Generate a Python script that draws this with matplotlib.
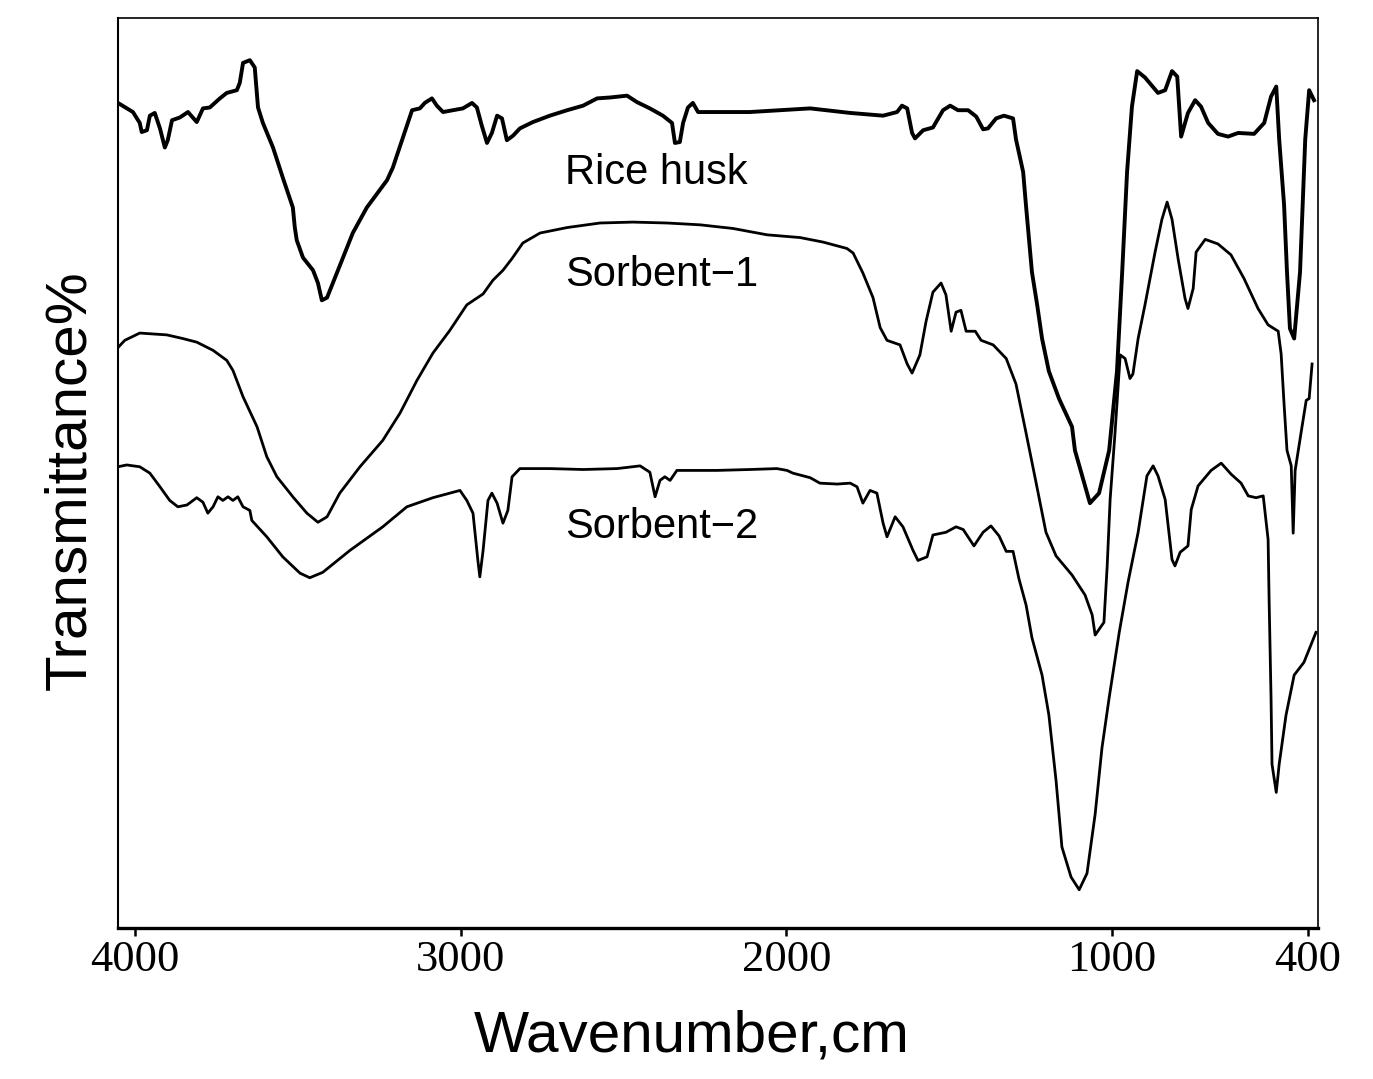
import matplotlib
matplotlib.use('Agg')
import matplotlib.pyplot as plt

# FTIR spectra (wavenumber in cm-1, transmittance in a.u.)
rice_wn = [4052, 4006, 3985, 3979, 3963, 3954, 3939, 3923, 3908, 3899, 3886, 3862, 3837, 3810,
           3791, 3770, 3739, 3718, 3687, 3678, 3668, 3647, 3632, 3622, 3607, 3576, 3546, 3515,
           3509, 3503, 3484, 3453, 3438, 3426, 3410, 3380, 3331, 3288, 3226, 3208, 3149, 3125,
           3110, 3088, 3073, 3054, 3024, 2993, 2965, 2950, 2935, 2919, 2904, 2888, 2873, 2858,
           2839, 2818, 2778, 2726, 2673, 2624, 2581, 2541, 2489, 2459, 2419, 2379, 2351, 2342,
           2327, 2317, 2302, 2287, 2271, 2112, 1927, 1804, 1703, 1660, 1645, 1629, 1614, 1605,
           1580, 1550, 1519, 1497, 1473, 1442, 1417, 1396, 1381, 1356, 1332, 1304, 1295, 1273,
           1264, 1255, 1246, 1230, 1215, 1194, 1163, 1123, 1114, 1068, 1040, 1009, 985, 969,
           954, 939, 923, 899, 859, 837, 816, 800, 788, 767, 745, 727, 705, 675, 644, 613, 564,
           533, 512, 496, 487, 472, 463, 454, 441, 423, 407, 395, 380]
rice_t = [90.7, 89.7, 88.5, 87.5, 87.7, 89.3, 89.6, 87.9, 85.8, 86.6, 88.8, 89.1, 89.7, 88.6,
          90.1, 90.2, 91.2, 91.8, 92.1, 92.9, 95.1, 95.4, 94.6, 90.2, 88.5, 85.8, 82.5, 79.2,
          77.0, 75.6, 73.7, 72.3, 70.9, 69.0, 69.3, 72.0, 76.4, 79.2, 82.2, 83.6, 89.9, 90.1,
          90.7, 91.2, 90.4, 89.7, 89.9, 90.1, 90.7, 90.2, 88.2, 86.3, 87.4, 89.3, 89.0, 86.6,
          87.1, 87.9, 88.6, 89.3, 89.9, 90.4, 91.2, 91.3, 91.5, 90.8, 90.1, 89.3, 88.5, 86.3,
          86.4, 88.5, 90.2, 90.7, 89.7, 89.7, 90.1, 89.6, 89.3, 89.7, 90.4, 90.1, 87.4, 86.8,
          87.7, 88.0, 89.9, 90.4, 89.9, 89.9, 89.2, 87.8, 87.9, 89.0, 89.3, 89.0, 86.7, 83.1,
          79.3, 75.7, 72.1, 68.5, 64.8, 61.2, 58.2, 55.1, 52.5, 46.7, 47.8, 52.5, 61.2, 72.1,
          83.1, 90.3, 94.2, 93.5, 91.8, 92.1, 94.2, 93.6, 87.0, 89.6, 91.0, 90.3, 88.5, 87.3,
          87.0, 87.4, 87.3, 88.5, 91.4, 92.5, 86.7, 79.5, 72.1, 65.9, 64.8, 72.1, 86.7, 92.1,
          91.0]

sorb1_wn = [4052, 4031, 3985, 3902, 3853, 3810, 3760, 3718, 3699, 3668, 3625, 3595, 3564, 3515,
            3472, 3438, 3410, 3371, 3309, 3239, 3186, 3134, 3085, 3033, 2981, 2931, 2901, 2870,
            2842, 2809, 2756, 2673, 2572, 2471, 2366, 2265, 2164, 2059, 1958, 1887, 1814, 1795,
            1765, 1734, 1712, 1691, 1651, 1629, 1614, 1590, 1571, 1550, 1525, 1510, 1494, 1479,
            1464, 1448, 1420, 1402, 1365, 1325, 1295, 1264, 1233, 1203, 1172, 1123, 1083, 1061,
            1052, 1025, 1015, 1006, 991, 975, 960, 945, 936, 920, 899, 868, 847, 831, 816, 797,
            776, 767, 751, 742, 714, 675, 635, 595, 552, 521, 490, 481, 472, 463, 450, 444, 438,
            420, 404, 395, 386]
sorb1_t = [63.8, 64.6, 65.4, 65.2, 64.8, 64.4, 63.5, 62.4, 61.3, 58.4, 55.1, 51.8, 49.6, 47.4,
           45.6, 44.6, 45.2, 47.8, 50.7, 53.6, 56.6, 60.2, 63.2, 65.7, 68.5, 69.7, 71.2, 72.3,
           73.6, 75.3, 76.4, 77.0, 77.5, 77.6, 77.5, 77.3, 76.9, 76.2, 75.9, 75.4, 74.7, 74.2,
           72.0, 69.3, 66.0, 64.6, 64.1, 62.0, 61.0, 63.0, 66.7, 69.9, 70.9, 69.6, 65.6, 67.7,
           67.9, 65.6, 65.6, 64.6, 64.1, 62.6, 59.8, 54.4, 48.9, 43.5, 40.9, 38.8, 36.6, 34.4,
           32.2, 33.6, 39.8, 47.1, 54.4, 63.0, 62.6, 60.4, 60.9, 64.8, 68.5, 74.3, 77.9, 79.8,
           77.9, 73.5, 69.2, 68.1, 70.3, 74.3, 75.7, 75.2, 74.0, 71.4, 68.1, 66.3, 65.6, 63.1,
           57.6, 52.5, 50.8, 43.4, 50.3, 54.4, 58.0, 58.2, 62.0]

sorb2_wn = [4052, 4025, 3985, 3954, 3923, 3893, 3868, 3840, 3810, 3791, 3776, 3760, 3745, 3730,
            3714, 3699, 3684, 3668, 3647, 3641, 3595, 3546, 3493, 3463, 3423, 3340, 3239, 3165,
            3085, 3002, 2981, 2962, 2947, 2941, 2931, 2916, 2904, 2888, 2870, 2855, 2842, 2818,
            2726, 2624, 2520, 2449, 2419, 2403, 2388, 2373, 2357, 2336, 2213, 2112, 2029, 1998,
            1980, 1927, 1897, 1844, 1804, 1783, 1765, 1743, 1722, 1703, 1691, 1666, 1642, 1611,
            1596, 1568, 1550, 1510, 1479, 1457, 1424, 1396, 1372, 1347, 1325, 1304, 1286, 1264,
            1246, 1215, 1194, 1172, 1154, 1126, 1101, 1077, 1052, 1031, 1009, 978, 951, 920, 893,
            874, 859, 837, 816, 807, 791, 767, 757, 736, 696, 665, 635, 604, 582, 558, 536, 521,
            518, 512, 509, 496, 487, 466, 441, 411, 374]
sorb2_t = [50.7, 50.9, 50.7, 50.0, 48.5, 47.0, 46.3, 46.5, 47.3, 46.8, 45.6, 46.3, 47.4, 47.0,
           47.4, 47.0, 47.4, 46.3, 45.9, 44.8, 43.0, 40.8, 39.0, 38.5, 39.1, 41.5, 44.1, 46.3,
           47.3, 48.1, 47.0, 45.6, 40.4, 38.6, 41.5, 47.0, 47.8, 46.7, 44.5, 45.9, 49.6, 50.5,
           50.5, 50.4, 50.5, 50.8, 50.1, 47.4, 49.2, 49.6, 49.2, 50.3, 50.3, 50.4, 50.5, 50.3,
           50.0, 49.5, 48.9, 48.8, 48.9, 48.5, 46.7, 48.1, 47.8, 44.5, 43.0, 45.2, 44.1, 41.5,
           40.4, 40.8, 43.2, 43.5, 44.1, 43.8, 42.0, 43.5, 44.2, 43.1, 41.4, 41.4, 38.4, 35.5,
           31.9, 27.8, 23.4, 16.2, 8.9, 5.6, 4.2, 6.0, 12.5, 19.8, 25.3, 32.5, 38.0, 43.5, 49.7,
           50.8, 49.7, 47.1, 40.5, 39.8, 41.3, 42.0, 46.0, 48.6, 50.3, 51.1, 49.9, 48.9, 47.5,
           47.3, 47.5, 42.7, 36.2, 25.3, 18.0, 14.9, 18.0, 23.4, 27.8, 29.2, 32.5]

x_ticks = [4000, 3000, 2000, 1000, 400]
names = ['Rice husk', 'Sorbent\u22121', 'Sorbent\u22122']
label_y = [83.0, 71.8, 44.1]

fig = plt.figure(figsize=(13.73, 10.79), dpi=100)
ax = fig.add_axes([0.0859, 0.140, 0.874, 0.843])

ax.plot(rice_wn, rice_t, color='black', linewidth=2.8, solid_joinstyle='round')
ax.plot(sorb1_wn, sorb1_t, color='black', linewidth=2.0, solid_joinstyle='round')
ax.plot(sorb2_wn, sorb2_t, color='black', linewidth=2.0, solid_joinstyle='round')

for name, yy in zip(names, label_y):
    ax.text(2680, yy, name, fontsize=30, family='Liberation Sans', ha='left', va='center')

ax.set_xlim(4052, 368)
ax.set_ylim(0, 100)
ax.set_xticks(x_ticks)
ax.set_xticklabels([str(v) for v in x_ticks], fontsize=32, family='Liberation Serif')
ax.set_yticks([])
ax.tick_params(axis='x', direction='out', length=6, width=1.8, pad=3)

ax.spines['bottom'].set_linewidth(2.4)
ax.spines['left'].set_linewidth(1.5)
ax.spines['top'].set_linewidth(1.2)
ax.spines['right'].set_linewidth(1.2)

ax.set_xlabel('Wavenumber,cm', fontsize=42, family='Liberation Sans')
ax.xaxis.set_label_coords(0.478, -0.090)
ax.set_ylabel('Transmittance%', fontsize=42, family='Liberation Sans')
ax.yaxis.set_label_coords(-0.017, 0.492)

fig.savefig('out.png', dpi=100)
